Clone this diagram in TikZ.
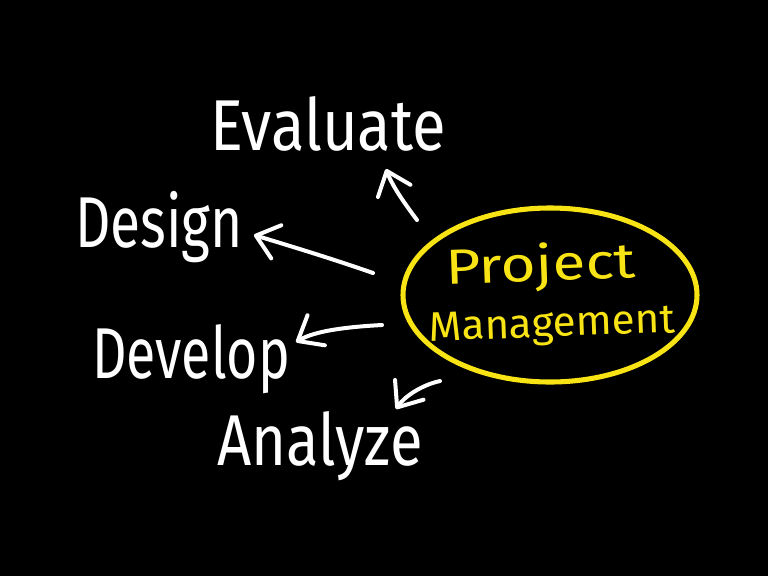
\documentclass[tikz,border=0pt]{standalone}
\usepackage{fontspec}
\setmainfont{Fira Sans}
\usetikzlibrary{arrows.meta,shapes.geometric}
\begin{document}
\begin{tikzpicture}[x=0.75pt,y=-0.75pt,
  word/.style={text=white, inner sep=0pt, font=\fontsize{54}{60}\selectfont},
  pmword/.style={text=pmyellow, inner sep=0pt, align=left, font=\fontsize{31}{35}\selectfont},
  hand/.style={draw=white, line width=3pt, line cap=round, line join=round,
    -{Straight Barb[length=16pt,width=26pt,line width=3pt,round]}},
  ring/.style={draw=pmyellow, line width=3.8pt, ellipse, inner sep=0pt}]
\definecolor{pmyellow}{RGB}{248,228,20}
\fill[black] (0,0) rectangle (768,576);
\useasboundingbox (0,0) rectangle (768,576);
% central ellipse
\node[ring, minimum width=220.5pt, minimum height=130.5pt] (pm) at (550,295) {};
\node[pmword, rotate=2] (label) at (551,294)
  {{\fontsize{37}{44}\selectfont\hspace*{14pt}\scalebox{1.22}[1]{Project}}\\[7pt]
   \scalebox{1.02}[1]{Management}};
% branch words
\node[word, anchor=base west, xscale=0.855] (eval) at (210,150) {Evaluate};
\node[word, anchor=base west, xscale=0.765] (design) at (75,247) {Design};
\node[word, anchor=base west, xscale=0.745] (devel) at (92,378) {Develop};
\node[word, anchor=base west, xscale=0.83] (anal) at (217,465) {Analyze};
% connector endpoints
\coordinate (e1) at (417,220); \coordinate (e2) at (386,169);
\coordinate (d1) at (373,273); \coordinate (d2) at (254,235);
\coordinate (v1) at (382,325); \coordinate (v2) at (296,342);
\coordinate (a1) at (440,381); \coordinate (a2) at (396,409);
\draw[hand] (e1) .. controls (402,200) and (392,185) .. (e2);
\draw[hand] (d1) .. controls (330,258) and (290,246) .. (d2);
\draw[hand] (v1) .. controls (345,327) and (315,331) .. (v2);
\draw[hand] (a1) .. controls (422,385) and (405,396) .. (a2);
\end{tikzpicture}
\end{document}
